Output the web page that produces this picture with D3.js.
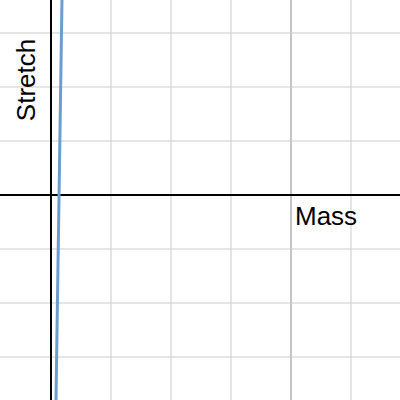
<!DOCTYPE html>
<html>
<head>
<script src="https://cdn.jsdelivr.net/npm/d3@7"></script>
<style>body{margin:0;background:#fff}</style>
</head>
<body>
<div id="chart"></div>
<script>
// Data
const xTicks = [0, 1, 2, 3, 4, 5];
const yTicks = [-3, -2, -1, 0, 1, 2, 3];
const linePoints = [
  { mass: 0.083, stretch: -3.8 },
  { mass: 0.183, stretch: 3.62 }
];

const width = 400, height = 400;

const svg = d3.select("#chart").append("svg")
  .attr("width", width)
  .attr("height", height);

const x = d3.scaleLinear().domain([-0.85, 5.8167]).range([0, width]);
const y = d3.scaleLinear().domain([-3.796, 3.611]).range([height, 0]);

// Grid lines
svg.selectAll(".vgrid")
  .data(xTicks.filter(d => d !== 0))
  .enter().append("line")
  .attr("x1", d => x(d)).attr("x2", d => x(d))
  .attr("y1", 0).attr("y2", height)
  .attr("stroke", d => d === 4 ? "#888" : "#ccc")
  .attr("stroke-width", 1);

svg.selectAll(".hgrid")
  .data(yTicks.filter(d => d !== 0))
  .enter().append("line")
  .attr("x1", 0).attr("x2", width)
  .attr("y1", d => y(d)).attr("y2", d => y(d))
  .attr("stroke", "#ccc")
  .attr("stroke-width", 1);

// Axes
svg.append("line")
  .attr("x1", 0).attr("x2", width)
  .attr("y1", y(0)).attr("y2", y(0))
  .attr("stroke", "#000").attr("stroke-width", 2);
svg.append("line")
  .attr("x1", x(0)).attr("x2", x(0))
  .attr("y1", 0).attr("y2", height)
  .attr("stroke", "#000").attr("stroke-width", 2);

// Line
svg.append("path")
  .datum(linePoints)
  .attr("fill", "none")
  .attr("stroke", "#6b9ecf")
  .attr("stroke-width", 3)
  .attr("d", d3.line().x(d => x(d.mass)).y(d => y(d.stretch)));

// Labels
svg.append("text")
  .attr("x", 295).attr("y", 225)
  .style("font-family", "Liberation Sans, Arial, sans-serif")
  .style("font-size", "26px")
  .text("Mass");

svg.append("text")
  .attr("transform", "translate(35,80) rotate(-90)")
  .attr("text-anchor", "middle")
  .style("font-family", "Liberation Sans, Arial, sans-serif")
  .style("font-size", "26px")
  .text("Stretch");
</script>
</body>
</html>
